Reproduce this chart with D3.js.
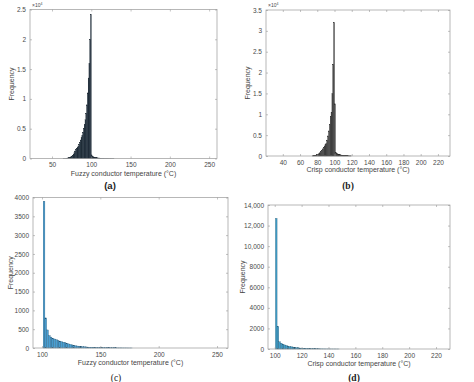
<!DOCTYPE html>
<html><head><meta charset="utf-8">
<script src="https://cdn.jsdelivr.net/npm/d3@7"></script>
<style>body{margin:0;background:#fff}svg{display:block}</style>
</head><body><svg id="c" width="474" height="382"></svg>
<script>
// Panel (a): fuzzy conductor temperature, counts x10^4, 1 °C bins starting at 64
const aBinStart = 64, aBinWidth = 1;
const aValues = [0.002,0.002,0.003,0.004,0.005,0.007,0.009,0.012,0.016,0.022,0.03,0.04,0.055,0.075,0.1,0.125,
  0.15,0.17,0.19,0.21,0.24,0.27,0.31,0.35,0.39,0.44,0.5,0.57,0.65,0.76,0.9,1.1,1.35,1.6,2.0,2.42,
  0.06,0.04,0.03,0.025,0.02,0.016,0.013,0.011,0.009,0.008,0.007,0.006,0.005,0.005,0.004,0.004,0.003,0.003,0.003,
  0.002,0.002,0.002,0.002,0.001,0.001,0.001,0.001,0.001,0.001];
const aXTicks = [50,100,150,200,250];
const aYTicks = [0,0.5,1,1.5,2,2.5];

// Panel (b): crisp conductor temperature, counts x10^4
const bBinStart = 74, bBinWidth = 1;
const bValues = [0.003,0.005,0.008,0.012,0.02,0.03,0.04,0.05,0.07,0.09,0.11,0.14,0.17,0.2,0.24,0.27,0.3,0.38,0.48,
  0.6,0.75,0.95,1.05,1.5,2.2,3.2,1.25,0.08,0.06,0.05,0.04,0.035,0.03,0.025,0.02,0.018,0.015,0.012,0.01,0.008,
  0.006,0.005,0.004,0.003,0.003,0.002];
const bXTicks = [40,60,80,100,120,140,160,180,200,220];
const bYTicks = [0,0.5,1,1.5,2,2.5,3,3.5];

// Panel (c): fuzzy conductor temperature above 100 °C
const cBinStart = 101, cBinWidth = 1.5;
const cValues = [3900,800,480,330,290,260,240,220,200,185,170,155,140,125,110,95,82,70,60,52,45,40,36,32,28,25,
  22,20,18,16,14,12,11,10,9,8,7,6,5,5,4,4,3,3,3,2,2,2,1,1,1];
const cXTicks = [100,150,200,250];
const cYTicks = [0,500,1000,1500,2000,2500,3000,3500,4000];

// Panel (d): crisp conductor temperature above 100 °C
const dBinStart = 100.5, dBinWidth = 1.25;
const dValues = [12700,2200,700,560,470,400,340,290,250,215,185,160,135,115,98,84,72,62,53,45,38,32,27,23,20,17,
  14,12,10,8,7,6,5,4,3,3,2,2];
const dXTicks = [100,120,140,160,180,200,220];
const dYTicks = [0,2000,4000,6000,8000,10000,12000,14000];
const dYLabels = ["0","2000","4000","6000","8000","10,000","12,000","14,000"];

const svg = d3.select("#c");
const tickCol = "#4a4a4a", frameCol = "#999";
const plain = d3.format("~g");

function panel(o){
  const g = svg.append("g");
  const x = d3.scaleLinear().domain(o.xDomain).range([o.L, o.R]);
  const y = d3.scaleLinear().domain(o.yDomain).range([o.B, o.T]);
  const bins = o.values.map((v,i)=>({x0:o.binStart+i*o.binWidth, x1:o.binStart+(i+1)*o.binWidth, v}));
  g.selectAll("rect.bar").data(bins).join("rect").attr("class","bar")
    .attr("x", d=>x(d.x0)).attr("width", d=>Math.max(0.4, x(d.x1)-x(d.x0)))
    .attr("y", d=>y(d.v)).attr("height", d=>y(0)-y(d.v))
    .attr("fill", o.fill).attr("stroke", o.stroke).attr("stroke-width", o.sw);
  const xa = d3.axisBottom(x).tickValues(o.xTicks).tickFormat(d3.format("d")).tickSizeInner(-2).tickSizeOuter(0).tickPadding(4);
  const ya = d3.axisLeft(y).tickValues(o.yTicks).tickFormat(o.yFmt || plain).tickSizeInner(-2).tickSizeOuter(0).tickPadding(4);
  const gx = g.append("g").attr("transform",`translate(0,${o.B})`).call(xa);
  const gy = g.append("g").attr("transform",`translate(${o.L},0)`).call(ya);
  const xt = g.append("g").attr("transform",`translate(0,${o.T})`).call(d3.axisTop(x).tickValues(o.xTicks).tickSizeInner(-2).tickSizeOuter(0).tickFormat(""));
  const yr = g.append("g").attr("transform",`translate(${o.R},0)`).call(d3.axisRight(y).tickValues(o.yTicks).tickSizeInner(-2).tickSizeOuter(0).tickFormat(""));
  [gx,gy,xt,yr].forEach(a=>{
    a.select(".domain").remove();
    a.selectAll("line").attr("stroke", frameCol).attr("stroke-width",0.6);
    a.selectAll("text").attr("fill", tickCol).style("font-family","'Liberation Sans',Arial,sans-serif").style("font-size","6.5px");
  });
  g.append("rect").attr("x",o.L).attr("y",o.T).attr("width",o.R-o.L).attr("height",o.B-o.T)
    .attr("fill","none").attr("stroke",frameCol).attr("stroke-width",0.7);
  if (o.exp) {
    const t = g.append("text").attr("x",o.L+2).attr("y",o.T-3).attr("fill",tickCol)
      .style("font-family","'Liberation Sans',Arial,sans-serif").style("font-size","5px");
    t.append("tspan").text("\u00d710");
    t.append("tspan").attr("dy",-2).style("font-size","3.5px").text("4");
  }
  g.append("text").attr("x",(o.L+o.R)/2).attr("y",o.xLabY).attr("text-anchor","middle").attr("fill","#444")
    .style("font-family","'Liberation Sans',Arial,sans-serif").style("font-size","7px").text(o.xLabel);
  g.append("text").attr("transform",`translate(${o.yLabX},${(o.T+o.B)/2}) rotate(-90)`).attr("text-anchor","middle").attr("fill","#444")
    .style("font-family","'Liberation Sans',Arial,sans-serif").style("font-size","7px").text("Frequency");
  g.append("text").attr("x",o.capX).attr("y",o.capY).attr("text-anchor","middle").attr("fill","#222")
    .style("font-family",o.capFont).style("font-weight",o.capWeight).style("font-size","9.5px").text(o.cap);
}

panel({L:30,R:217,T:9.5,B:158.5,xDomain:[22,260],yDomain:[0,2.5],values:aValues,binStart:aBinStart,binWidth:aBinWidth,
  xTicks:aXTicks,yTicks:aYTicks,fill:"#1e3142",stroke:"#0e1a24",sw:0.3,exp:true,
  xLabel:"Fuzzy conductor temperature (\u00b0C)",xLabY:176,yLabX:14,cap:"(a)",capX:110,capY:189,
  capFont:"'Liberation Sans',Arial,sans-serif",capWeight:"bold"});
panel({L:266,R:450,T:10,B:156,xDomain:[20.5,234],yDomain:[0,3.5],values:bValues,binStart:bBinStart,binWidth:bBinWidth,
  xTicks:bXTicks,yTicks:bYTicks,fill:"#6e6e6e",stroke:"#111",sw:0.35,exp:true,
  xLabel:"Crisp conductor temperature (\u00b0C)",xLabY:172,yLabX:250,cap:"(b)",capX:348,capY:189,
  capFont:"'Liberation Serif','Times New Roman',serif",capWeight:"bold"});
panel({L:33,R:228,T:197.5,B:348,xDomain:[92.3,259.4],yDomain:[0,4000],values:cValues,binStart:cBinStart,binWidth:cBinWidth,
  xTicks:cXTicks,yTicks:cYTicks,fill:"#4a9fd2",stroke:"#1f4f6e",sw:0.3,exp:false,
  xLabel:"Fuzzy conductor temperature (\u00b0C)",xLabY:365,yLabX:13,cap:"(c)",capX:116,capY:381,
  capFont:"'Liberation Serif','Times New Roman',serif",capWeight:"normal"});
panel({L:268,R:450,T:205,B:349,xDomain:[95,230.4],yDomain:[0,14000],values:dValues,binStart:dBinStart,binWidth:dBinWidth,
  xTicks:dXTicks,yTicks:dYTicks,yFmt:(d,i)=>dYLabels[i],fill:"#3f9dc8",stroke:"#1f506a",sw:0.3,exp:false,
  xLabel:"Crisp conductor temperature (\u00b0C)",xLabY:366,yLabX:245,cap:"(d)",capX:354,capY:381,
  capFont:"'Liberation Serif','Times New Roman',serif",capWeight:"bold"});
</script></body></html>
